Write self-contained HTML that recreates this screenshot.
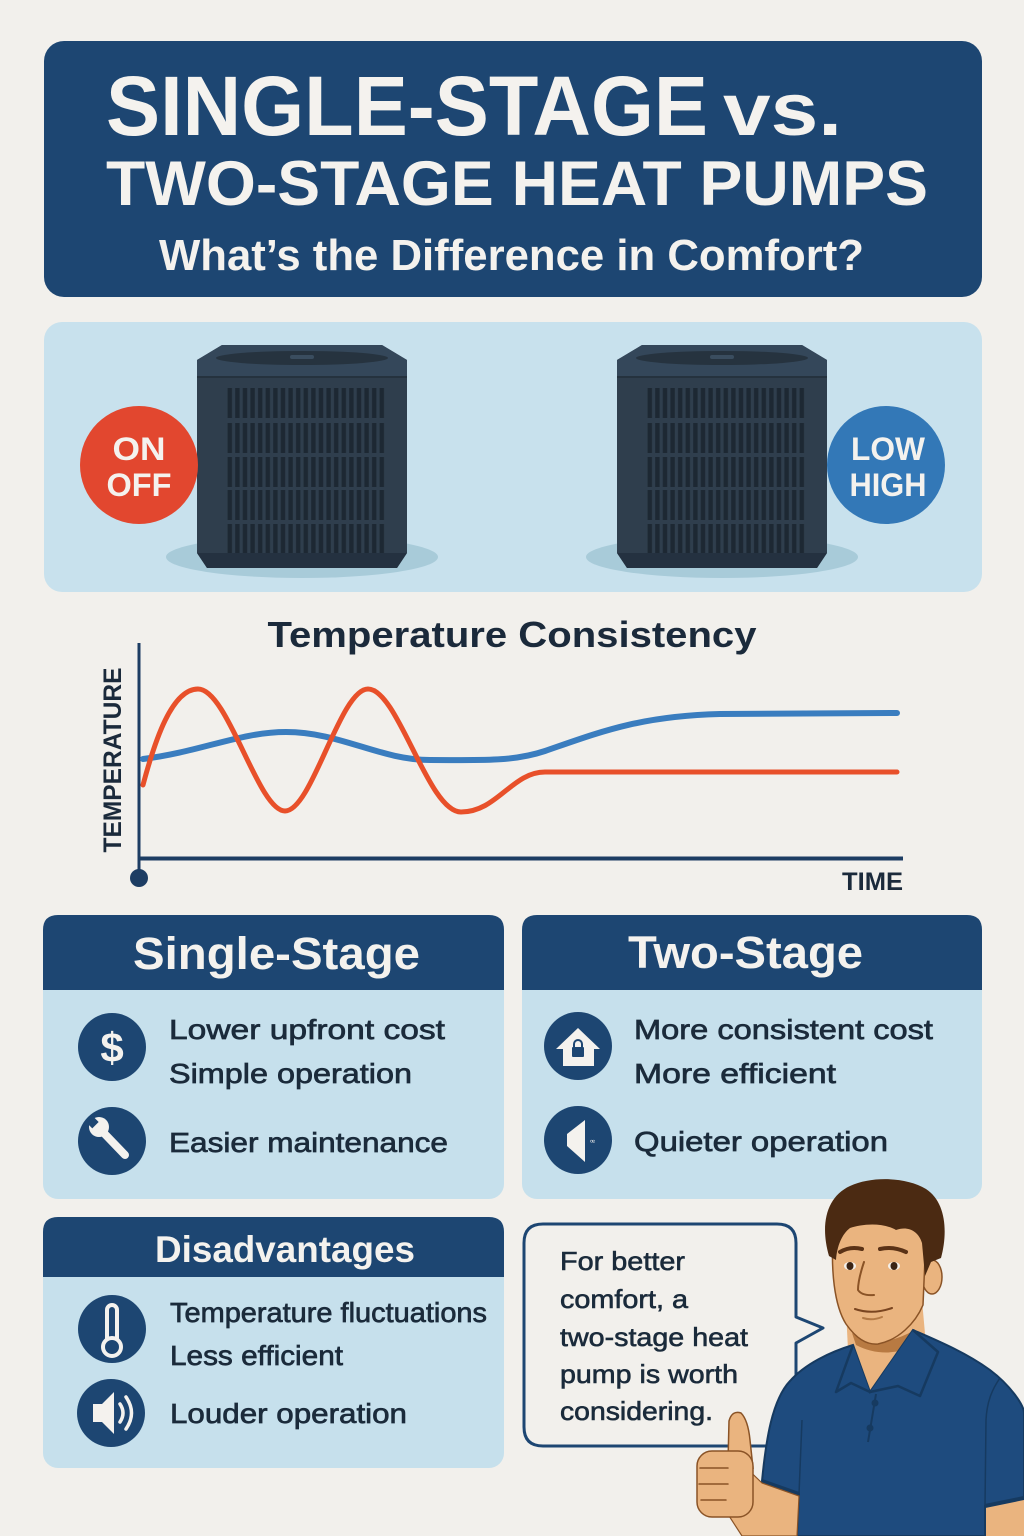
<!DOCTYPE html>
<html>
<head>
<meta charset="utf-8">
<style>
html,body{margin:0;padding:0;background:#f2f0ec;}
svg{display:block;}
.h{font-weight:bold;fill:#f4f2ee;}
.b{font-size:28px;fill:#1b2b3b;stroke:#1b2b3b;stroke-width:0.7px;}
.s{font-size:26px;fill:#1b2b3b;stroke:#1b2b3b;stroke-width:0.6px;}
</style>
</head>
<body>
<svg width="1024" height="1536" viewBox="0 0 1024 1536" xmlns="http://www.w3.org/2000/svg" font-family="'Liberation Sans', Arial, sans-serif">
<defs>
  <pattern id="slat" x="227" y="0" width="7.6" height="60" patternUnits="userSpaceOnUse">
    <rect x="0" y="0" width="7.6" height="60" fill="#2f3e4d"/>
    <rect x="0.6" y="0" width="4.4" height="60" fill="#1d2833"/>
  </pattern>
  <pattern id="slat2" x="647" y="0" width="7.6" height="60" patternUnits="userSpaceOnUse">
    <rect x="0" y="0" width="7.6" height="60" fill="#2f3e4d"/>
    <rect x="0.6" y="0" width="4.4" height="60" fill="#1d2833"/>
  </pattern>
</defs>

<rect width="1024" height="1536" fill="#f2f0ec"/>

<!-- Title box -->
<rect x="44" y="41" width="938" height="256" rx="20" fill="#1d4672"/>
<text class="h" x="106" y="135" font-size="84" textLength="602" lengthAdjust="spacingAndGlyphs">SINGLE-STAGE</text>
<text class="h" x="723" y="135" font-size="74" textLength="119" lengthAdjust="spacingAndGlyphs">vs.</text>
<text class="h" x="106" y="205" font-size="63" textLength="822" lengthAdjust="spacingAndGlyphs">TWO-STAGE HEAT PUMPS</text>
<text class="h" x="159" y="270" font-size="44" textLength="705" lengthAdjust="spacingAndGlyphs">What’s the Difference in Comfort?</text>

<!-- Units panel -->
<rect x="44" y="322" width="938" height="270" rx="18" fill="#c8e1ed"/>

<!-- left unit -->
<ellipse cx="302" cy="557" rx="136" ry="21" fill="#a8cbd9"/>
<path d="M222,345 L382,345 L407,360 L407,553 L397,568 L207,568 L197,553 L197,360 Z" fill="#2f3e4d"/>
<path d="M222,345 L382,345 L407,360 L407,377 L197,377 L197,360 Z" fill="#34475a"/>
<rect x="197" y="376" width="210" height="2" fill="#25323e"/>
<ellipse cx="302" cy="358" rx="86" ry="7" fill="#26333f"/>
<rect x="290" y="355" width="24" height="4" rx="2" fill="#3a4d5f"/>
<rect x="227" y="388" width="160" height="30" fill="url(#slat)"/>
<rect x="227" y="423" width="160" height="30" fill="url(#slat)"/>
<rect x="227" y="457" width="160" height="30" fill="url(#slat)"/>
<rect x="227" y="490" width="160" height="30" fill="url(#slat)"/>
<rect x="227" y="524" width="160" height="31" fill="url(#slat)"/>
<path d="M197,553 L407,553 L397,568 L207,568 Z" fill="#243140"/>

<!-- right unit -->
<ellipse cx="722" cy="557" rx="136" ry="21" fill="#a8cbd9"/>
<path d="M642,345 L802,345 L827,360 L827,553 L817,568 L627,568 L617,553 L617,360 Z" fill="#2f3e4d"/>
<path d="M642,345 L802,345 L827,360 L827,377 L617,377 L617,360 Z" fill="#34475a"/>
<rect x="617" y="376" width="210" height="2" fill="#25323e"/>
<ellipse cx="722" cy="358" rx="86" ry="7" fill="#26333f"/>
<rect x="710" y="355" width="24" height="4" rx="2" fill="#3a4d5f"/>
<rect x="647" y="388" width="160" height="30" fill="url(#slat2)"/>
<rect x="647" y="423" width="160" height="30" fill="url(#slat2)"/>
<rect x="647" y="457" width="160" height="30" fill="url(#slat2)"/>
<rect x="647" y="490" width="160" height="30" fill="url(#slat2)"/>
<rect x="647" y="524" width="160" height="31" fill="url(#slat2)"/>
<path d="M617,553 L827,553 L817,568 L627,568 Z" fill="#243140"/>

<!-- badges -->
<circle cx="139" cy="465" r="59" fill="#e2472f"/>
<text class="h" x="139" y="460" font-size="32" text-anchor="middle" textLength="53" lengthAdjust="spacingAndGlyphs">ON</text>
<text class="h" x="139" y="496" font-size="32" text-anchor="middle" textLength="65" lengthAdjust="spacingAndGlyphs">OFF</text>
<circle cx="886" cy="465" r="59" fill="#3378b7"/>
<text class="h" x="888" y="460" font-size="32" text-anchor="middle" textLength="74" lengthAdjust="spacingAndGlyphs">LOW</text>
<text class="h" x="888" y="496" font-size="32" text-anchor="middle" textLength="77" lengthAdjust="spacingAndGlyphs">HIGH</text>

<!-- Chart -->
<text x="512" y="647" font-size="36" font-weight="bold" fill="#1b2a3b" text-anchor="middle" textLength="489" lengthAdjust="spacingAndGlyphs">Temperature Consistency</text>
<text transform="translate(121,760) rotate(-90)" font-size="25" font-weight="bold" fill="#1b2a3b" text-anchor="middle" textLength="185" lengthAdjust="spacingAndGlyphs">TEMPERATURE</text>
<text x="842" y="890" font-size="25" font-weight="bold" fill="#1b2a3b" textLength="61" lengthAdjust="spacingAndGlyphs">TIME</text>
<line x1="139" y1="643" x2="139" y2="878" stroke="#1d3d63" stroke-width="3"/>
<line x1="139" y1="858.5" x2="903" y2="858.5" stroke="#1d3d63" stroke-width="4"/>
<circle cx="139" cy="878" r="9" fill="#1d3d63"/>
<path d="M143,759 C200,752 240,732 286,732 C340,732 380,760 430,760 C480,760 512,762 545,751 C600,732 640,716 720,714 L897,713" fill="none" stroke="#3a7dbf" stroke-width="6" stroke-linecap="round"/>
<path d="M143,785 C155,740 172,689 198,689 C228,689 258,811 285,811 C312,811 340,689 368,689 C398,689 428,812 461,812 C497,812 512,772 545,772 L897,772" fill="none" stroke="#e8502a" stroke-width="5" stroke-linecap="round"/>

<!-- Single-Stage box -->
<rect x="43" y="915" width="461" height="284" rx="15" fill="#c6e0ec"/>
<path d="M43,990 V930 Q43,915 58,915 H489 Q504,915 504,930 V990 Z" fill="#1d4672"/>
<text class="h" x="133" y="969" font-size="45" textLength="287" lengthAdjust="spacingAndGlyphs">Single-Stage</text>
<circle cx="112" cy="1047" r="34" fill="#1d4672"/>
<text x="112" y="1062" font-size="42" font-weight="bold" fill="#f4f2ee" text-anchor="middle">$</text>
<circle cx="112" cy="1141" r="34" fill="#1d4672"/>
<line x1="100" y1="1129" x2="125" y2="1155" stroke="#f4f2ee" stroke-width="8" stroke-linecap="round"/>
<circle cx="99" cy="1127" r="10" fill="#f4f2ee"/>
<rect x="88" y="1118" width="9" height="9" fill="#1d4672" transform="rotate(45 93 1122)"/>
<text class="b" x="169" y="1039" textLength="276" lengthAdjust="spacingAndGlyphs">Lower upfront cost</text>
<text class="b" x="169" y="1083" textLength="243" lengthAdjust="spacingAndGlyphs">Simple operation</text>
<text class="b" x="169" y="1152" textLength="279" lengthAdjust="spacingAndGlyphs">Easier maintenance</text>

<!-- Two-Stage box -->
<rect x="522" y="915" width="460" height="284" rx="15" fill="#c6e0ec"/>
<path d="M522,990 V930 Q522,915 537,915 H967 Q982,915 982,930 V990 Z" fill="#1d4672"/>
<text class="h" x="628" y="968" font-size="45" textLength="235" lengthAdjust="spacingAndGlyphs">Two-Stage</text>
<circle cx="578" cy="1046" r="34" fill="#1d4672"/>
<path d="M556,1049 L578,1028 L600,1049 L594,1049 L594,1066 L563,1066 L563,1049 Z" fill="#f4f2ee"/>
<rect x="572" y="1047" width="12" height="10" rx="1" fill="#1d4672"/>
<path d="M574,1047 v-3 a4,4 0 0 1 8,0 v3" fill="none" stroke="#1d4672" stroke-width="2"/>
<circle cx="578" cy="1140" r="34" fill="#1d4672"/>
<path d="M585,1120 L585,1162 L567,1146 L567,1134 Z" fill="#f4f2ee"/>
<text x="590" y="1145" font-size="8" fill="#f4f2ee">ꟹ</text>
<text class="b" x="634" y="1039" textLength="299" lengthAdjust="spacingAndGlyphs">More consistent cost</text>
<text class="b" x="634" y="1083" textLength="202" lengthAdjust="spacingAndGlyphs">More efficient</text>
<text class="b" x="634" y="1151" textLength="254" lengthAdjust="spacingAndGlyphs">Quieter operation</text>

<!-- Disadvantages box -->
<rect x="43" y="1217" width="461" height="251" rx="15" fill="#c6e0ec"/>
<path d="M43,1277 V1232 Q43,1217 58,1217 H489 Q504,1217 504,1232 V1277 Z" fill="#1d4672"/>
<text class="h" x="155" y="1262" font-size="37" textLength="260" lengthAdjust="spacingAndGlyphs">Disadvantages</text>
<circle cx="112" cy="1329" r="34" fill="#1d4672"/>
<path d="M107,1340 V1310 a5,5 0 0 1 10,0 V1340" fill="none" stroke="#f4f2ee" stroke-width="4"/>
<circle cx="112" cy="1347" r="9" fill="none" stroke="#f4f2ee" stroke-width="4"/>
<circle cx="111" cy="1413" r="34" fill="#1d4672"/>
<path d="M93,1404 L102,1404 L114,1392 L114,1434 L102,1422 L93,1422 Z" fill="#f4f2ee"/>
<path d="M120,1404 Q126,1413 120,1422" fill="none" stroke="#f4f2ee" stroke-width="3.5" stroke-linecap="round"/>
<path d="M126,1397 Q137,1413 126,1429" fill="none" stroke="#f4f2ee" stroke-width="3.5" stroke-linecap="round"/>
<text class="b" x="170" y="1322" textLength="317" lengthAdjust="spacingAndGlyphs">Temperature fluctuations</text>
<text class="b" x="170" y="1365" textLength="173" lengthAdjust="spacingAndGlyphs">Less efficient</text>
<text class="b" x="170" y="1423" textLength="237" lengthAdjust="spacingAndGlyphs">Louder operation</text>

<!-- Speech bubble -->
<path d="M543,1224 H777 Q796,1224 796,1243 V1317 L823,1328 L796,1343 V1427 Q796,1446 777,1446 H543 Q524,1446 524,1427 V1243 Q524,1224 543,1224 Z" fill="#f2f0ec" stroke="#1d4672" stroke-width="3" stroke-linejoin="round"/>
<text class="s" x="560" y="1270" textLength="125" lengthAdjust="spacingAndGlyphs">For better</text>
<text class="s" x="560" y="1308" textLength="128" lengthAdjust="spacingAndGlyphs">comfort, a</text>
<text class="s" x="560" y="1346" textLength="188" lengthAdjust="spacingAndGlyphs">two-stage heat</text>
<text class="s" x="560" y="1383" textLength="178" lengthAdjust="spacingAndGlyphs">pump is worth</text>
<text class="s" x="560" y="1420" textLength="153" lengthAdjust="spacingAndGlyphs">considering.</text>

<!-- Man -->
<!-- neck -->
<path d="M846,1310 L922,1300 L926,1345 L870,1396 L848,1350 Z" fill="#eab47f"/>
<path d="M852,1333 Q875,1352 915,1330 L918,1345 Q885,1360 856,1345 Z" fill="#b87a42"/>
<!-- ear -->
<ellipse cx="932" cy="1277" rx="10" ry="17" fill="#eab47f" stroke="#8a5326" stroke-width="1.5"/>
<!-- face -->
<path d="M833,1235 C831,1270 834,1305 846,1324 C856,1338 866,1345 878,1344 C898,1340 915,1324 923,1305 L926,1235 C920,1215 900,1205 878,1205 C855,1205 838,1215 833,1235 Z" fill="#eab47f" stroke="#8a5326" stroke-width="1.5"/>
<!-- hair -->
<path d="M829,1256 C820,1225 826,1197 850,1186 C872,1176 906,1177 926,1189 C946,1202 948,1232 941,1258 L931,1262 L925,1276 L922,1243 C918,1230 907,1226 896,1230 C882,1222 862,1224 850,1228 C842,1234 837,1246 836,1260 Z" fill="#4b2a12"/>
<!-- eyebrows -->
<path d="M840,1252 Q850,1246 862,1249" fill="none" stroke="#5a3216" stroke-width="4" stroke-linecap="round"/>
<path d="M880,1249 Q893,1246 906,1252" fill="none" stroke="#5a3216" stroke-width="4" stroke-linecap="round"/>
<!-- eyes -->
<ellipse cx="850" cy="1266" rx="6" ry="4" fill="#f4f0ea"/>
<ellipse cx="894" cy="1266" rx="6" ry="4" fill="#f4f0ea"/>
<ellipse cx="850" cy="1266" rx="3.5" ry="4" fill="#3b2414"/>
<ellipse cx="894" cy="1266" rx="3.5" ry="4" fill="#3b2414"/>
<!-- nose & mouth -->
<path d="M864,1262 Q858,1280 858,1290 Q862,1296 874,1295" fill="none" stroke="#8a5326" stroke-width="2" stroke-linecap="round"/>
<path d="M855,1309 Q872,1315 892,1308" fill="none" stroke="#7a4520" stroke-width="2" stroke-linecap="round"/>
<path d="M863,1318 Q872,1321 882,1317" fill="none" stroke="#b47a45" stroke-width="2" stroke-linecap="round"/>
<!-- right arm skin -->
<path d="M985,1506 L1024,1498 L1024,1536 L986,1536 Z" fill="#eab47f"/>
<!-- shirt -->
<path d="M853,1345 L870,1392 L913,1330 C936,1340 965,1352 990,1370 C1010,1385 1024,1405 1024,1413 L1024,1498 L985,1506 L985,1536 L797,1536 L799,1494 L762,1481 C766,1440 772,1400 790,1381 C805,1364 830,1352 853,1345 Z" fill="#1e4b7e" stroke="#163a60" stroke-width="2"/>
<!-- collar -->
<path d="M853,1345 L836,1392 L851,1383 L870,1392" fill="#1e4b7e" stroke="#163a60" stroke-width="2.5" stroke-linejoin="round"/>
<path d="M913,1330 L938,1352 L920,1396 L898,1386 L870,1392" fill="#1e4b7e" stroke="#163a60" stroke-width="2.5" stroke-linejoin="round"/>
<path d="M876,1394 L868,1442" stroke="#163a60" stroke-width="2"/>
<circle cx="875" cy="1403" r="3.5" fill="#163a60"/>
<circle cx="870" cy="1428" r="3.5" fill="#163a60"/>
<!-- sleeve lines -->
<path d="M762,1481 L799,1494" stroke="#163a60" stroke-width="4"/>
<path d="M799,1494 L802,1420" stroke="#163a60" stroke-width="1.5"/>
<path d="M985,1506 L1024,1498" stroke="#163a60" stroke-width="4"/>
<path d="M985,1506 L986,1420 C987,1400 993,1388 1000,1378" fill="none" stroke="#163a60" stroke-width="1.5"/>
<!-- left arm & hand -->
<path d="M733,1455 L762,1483 L799,1496 L797,1536 L742,1536 L722,1505 Z" fill="#eab47f" stroke="#8a5326" stroke-width="1.2"/>
<path d="M728,1462 L729,1421 Q732,1410 741,1413 Q748,1420 750,1440 L753,1468 Z" fill="#eab47f" stroke="#8a5326" stroke-width="1.5"/>
<rect x="697" y="1451" width="56" height="66" rx="15" fill="#eab47f" stroke="#8a5326" stroke-width="1.5"/>
<path d="M700,1468 H728 M699,1484 H728 M701,1500 H726" stroke="#8a5326" stroke-width="1.5" stroke-linecap="round"/>
</svg>
</body>
</html>
